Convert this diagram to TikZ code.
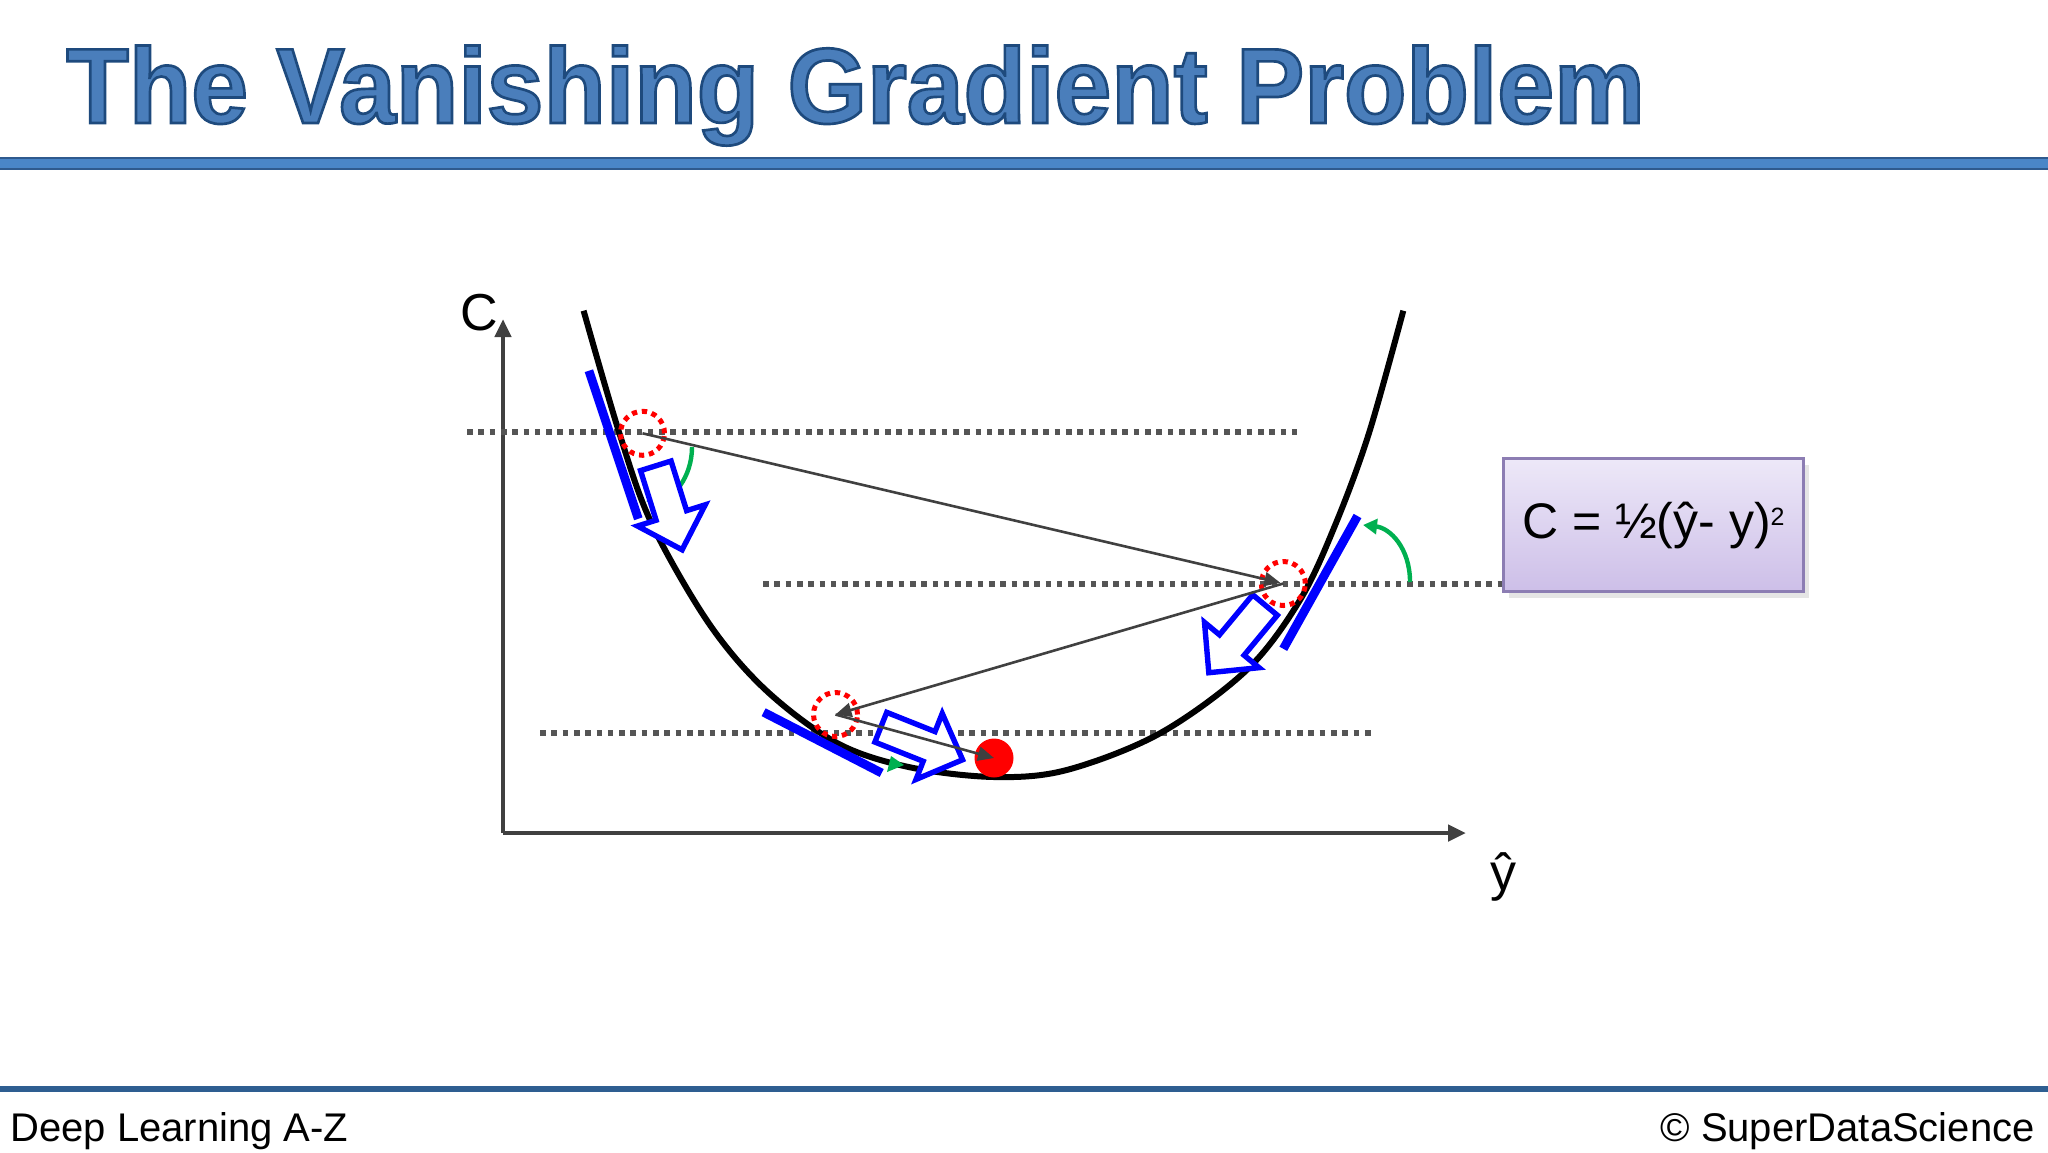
\documentclass[tikz,border=0pt]{standalone}
\usepackage{fontspec}
\setmainfont{Liberation Sans}
\newfontfamily\titlefont{Liberation Sans}[BoldFeatures={FakeBold=2.5,FakeStretch=0.955}]
\usetikzlibrary{arrows.meta,shadows}
\definecolor{titleblue}{HTML}{4A7EBB}
\definecolor{barblue}{HTML}{4A86C8}
\definecolor{bardark}{HTML}{2F5A8E}
\definecolor{footblue}{HTML}{2E5E91}
\definecolor{axisgray}{HTML}{404040}
\definecolor{dotgray}{HTML}{555555}
\definecolor{tanblue}{HTML}{0000FF}
\definecolor{arcgreen}{HTML}{00B050}
\definecolor{boxtop}{HTML}{EDE8F8}
\definecolor{boxbot}{HTML}{CDBFE8}
\definecolor{boxedge}{HTML}{8C7DB3}
\newcommand\BlockArr[3]{\draw[blockarr, shift={(#1,#2)}, rotate={-#3}]
  (0,-16) -- (52,-16) -- (52,-35.5) -- (88,0) -- (52,35.5) -- (52,16) -- (0,16) -- cycle;}
\tikzset{
  axisline/.style={draw=axisgray, line width=2.4pt, -{Triangle[length=9pt,width=8pt]}},
  dotline/.style={draw=dotgray, line width=2.8pt, dash pattern=on 2.8pt off 2.85pt},
  costcurve/.style={draw=black, line width=3pt},
  tangent/.style={draw=tanblue, line width=4.4pt},
  blockarr/.style={draw=tanblue, fill=white, line width=2.7pt, line join=miter},
  greenarc/.style={draw=arcgreen, line width=2.2pt, -{Triangle[length=7pt,width=7.5pt]}},
  redring/.style={circle, draw=red, line width=2.5pt, dash pattern=on 2.6pt off 2.4pt, minimum size=22pt, inner sep=0pt},
  stepline/.style={draw=axisgray, line width=1.3pt, -{Triangle[length=8pt,width=7pt]}},
  redball/.style={circle, fill=red, minimum size=19.5pt, inner sep=0pt},
  formbox/.style={draw=boxedge, line width=1.2pt, top color=boxtop, bottom color=boxbot,
    minimum width=150pt, minimum height=66.5pt, inner sep=0pt,
    drop shadow={opacity=0.2, shadow xshift=3pt, shadow yshift=-3pt}},
  lbl/.style={inner sep=0pt, font=\fontsize{26}{30}\selectfont},
  foot/.style={inner sep=0pt, font=\fontsize{20}{24}\selectfont}
}
\begin{document}
\begin{tikzpicture}[x=0.5pt,y=-0.5pt]
\useasboundingbox (0,0) rectangle (2048,1152);
\fill[white] (0,0) rectangle (2048,1152);
% header and footer bars
\filldraw[fill=barblue, draw=bardark, line width=0.8pt] (-2,158) rectangle (2050,169);
\fill[footblue] (0,1086) rectangle (2048,1092);
% axes
\coordinate (O) at (503,833);
\coordinate (ytop) at (503,319);
\coordinate (xend) at (1466,833);
\draw[axisline] (O) -- (ytop);
\draw[axisline] (O) -- (xend);
\node[lbl, anchor=base] (lblC) at (479,330) {C};
\node[lbl, anchor=base] (lblY) at (1503,890) {ŷ};
% formula box
\node[formbox] (F) at (1653.3,525) {\fontsize{25}{30}\selectfont C = ½(ŷ- y)\raisebox{6.3pt}{\fontsize{12.5}{13}\selectfont 2}};
% dotted levels
\draw[dotline] (467,432) -- (1297,432);
\draw[dotline] (763,584) -- (1502,584);
\draw[dotline] (540,733) -- (1374,733);
% cost curve
\draw[costcurve] plot[smooth, tension=0.55] coordinates {
  (583.6,310.7) (619.3,433) (651.4,523) (708.6,623) (765.7,690) (837,743)
  (908.6,767) (994,777) (1066.7,770) (1160,733.3) (1246.7,670) (1300,600)
  (1336,523) (1369,433) (1403.3,310.7)};
% green angle arcs
\draw[greenarc] (692,447) .. controls (692,478) and (672,500) .. (646,501);
\draw[greenarc] (1410,582) .. controls (1410,548) and (1390,528) .. (1363,525);
% blue tangents
\draw[tangent] (588.9,370.7) -- (638.3,518.8);
\draw[tangent] (763.6,712.2) -- (881.7,773);
\draw[tangent] (1357.5,516) -- (1283.3,648.8);
% block arrows
\BlockArr{655.8}{465.8}{72.6}
\BlockArr{880.8}{727.2}{21.7}
\BlockArr{1265}{605}{129.7}
% small green arrowhead at bottom
\fill[arcgreen] (891,756) -- (904,765) -- (887,772) -- cycle;
% red rings and ball
\node[redring] (cA) at (642.5,433.3) {};
\node[redring] (cC) at (1283.3,583.5) {};
\node[redring] (cB) at (835.5,714.5) {};
\node[redball] (ball) at (994,758) {};
% step arrows
\draw[stepline, shorten >=1.5pt] (cA.center) -- (cC.center);
\draw[stepline] (cC.center) -- (cB.center);
\draw[stepline] (cB.center) -- (ball.center);
% footer text
\node[foot, anchor=base west] (footL) at (10,1141) {Deep Learning A-Z};
\node[foot, anchor=base east] (footR) at (2035,1141) {© SuperDataScience};
% title
\node[anchor=base west, inner sep=0pt, text=titleblue] (title) at (66,123)
  {\titlefont\bfseries\fontsize{53.5}{60}\selectfont\special{pdf:literal direct 0.118 0.29 0.49 RG}The Vanishing Gradient Problem};
\end{tikzpicture}
\end{document}
